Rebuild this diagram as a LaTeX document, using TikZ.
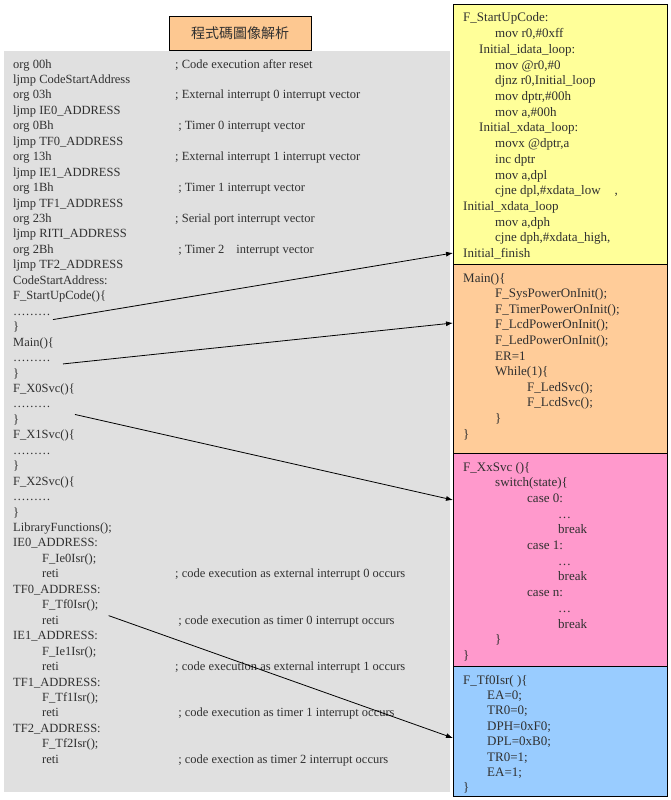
\documentclass[tikz,border=0pt]{standalone}
\usepackage{fontspec}
\setmainfont{Liberation Serif}
\newfontfamily\cjk{Noto Sans CJK SC}
\usetikzlibrary{arrows.meta}
\definecolor{panel}{HTML}{E0E0E0}
\definecolor{ttl}{HTML}{FDC891}
\definecolor{yel}{HTML}{FFFF99}
\definecolor{org}{HTML}{FFCC99}
\definecolor{pnk}{HTML}{FF99CC}
\definecolor{blu}{HTML}{99CCFF}
\definecolor{txt}{HTML}{303030}
\tikzset{ln/.style={anchor=base west,inner sep=0pt,font=\fontsize{12.5}{14}\selectfont,text=txt},
 rn/.style={anchor=base west,inner sep=0pt,font=\fontsize{13}{14}\selectfont,text=txt},
 box/.style={draw=black,line width=0.8pt},
 arr/.style={-{Latex[length=7pt,width=5pt]},line width=0.8pt}}
\begin{document}
\begin{tikzpicture}[x=1pt,y=-1pt]
\useasboundingbox (0,0) rectangle (671,800);
\fill[panel] (4,51) rectangle (450,792);
\node[box,fill=ttl,minimum width=142pt,minimum height=34pt,font=\cjk\fontsize{14}{16}\selectfont,text=txt] (title) at (240,33) {程式碼圖像解析};
\draw[box,fill=yel] (453,4) rectangle (667,264);
\draw[box,fill=org] (453,264) rectangle (667,453);
\draw[box,fill=pnk] (453,453) rectangle (667,666);
\draw[box,fill=blu] (453,666) rectangle (667,796);
\coordinate (yb) at (453,253);
\coordinate (ob) at (453,323);
\coordinate (pb) at (453,500);
\coordinate (bb) at (453,738);
% left column
\foreach \t [count=\i] in {{org 00h},{ljmp CodeStartAddress},{org 03h},{ljmp IE0\_ADDRESS},{org 0Bh},{ljmp TF0\_ADDRESS},{org 13h},{ljmp IE1\_ADDRESS},{org 1Bh},{ljmp TF1\_ADDRESS},{org 23h},{ljmp RITI\_ADDRESS},{org 2Bh},{ljmp TF2\_ADDRESS},{CodeStartAddress:},{F\_StartUpCode()\{},{\dots\dots\dots},{\}},{Main()\{},{\dots\dots\dots},{\}},{F\_X0Svc()\{},{\dots\dots\dots},{\}},{F\_X1Svc()\{},{\dots\dots\dots},{\}},{F\_X2Svc()\{},{\dots\dots\dots},{\}},{LibraryFunctions();},{IE0\_ADDRESS:},{\hspace{29pt}F\_Ie0Isr();},{\hspace{29pt}reti},{TF0\_ADDRESS:},{\hspace{29pt}F\_Tf0Isr();},{\hspace{29pt}reti},{IE1\_ADDRESS:},{\hspace{29pt}F\_Ie1Isr();},{\hspace{29pt}reti},{TF1\_ADDRESS:},{\hspace{29pt}F\_Tf1Isr();},{\hspace{29pt}reti},{TF2\_ADDRESS:},{\hspace{29pt}F\_Tf2Isr();},{\hspace{29pt}reti}}
  \node[ln] (l\i) at (13,{68+15.45*(\i-1)}) {\t};
\foreach \n/\t in {1/{; Code execution after reset},3/{; External interrupt 0 interrupt vector},5/{\ ; Timer 0 interrupt vector},7/{; External interrupt 1 interrupt vector},9/{\ ; Timer 1 interrupt vector},11/{; Serial port interrupt vector},13/{\ ; Timer 2\hspace{12pt}interrupt vector},34/{; code execution as external interrupt 0 occurs},37/{\ ; code execution as timer 0 interrupt occurs},40/{; code execution as external interrupt 1 occurs},43/{\ ; code execution as timer 1 interrupt occurs},46/{\ ; code exection as timer 2 interrupt occurs}}
  \node[ln] (c\n) at (175,{68+15.45*(\n-1)}) {\t};
% yellow
\foreach \x/\t [count=\i] in {463/{F\_StartUpCode:},495/{mov r0,\#0xff},479/{Initial\_idata\_loop:},495/{mov @r0,\#0},495/{djnz r0,Initial\_loop},495/{mov dptr,\#00h},495/{mov a,\#00h},479/{Initial\_xdata\_loop:},495/{movx @dptr,a},495/{inc dptr},495/{mov a,dpl},495/{cjne dpl,\#xdata\_low\hspace{14pt},},463/{Initial\_xdata\_loop},495/{mov a,dph},495/{cjne dph,\#xdata\_high,},463/{Initial\_finish}}
  \node[rn] (y\i) at (\x,{22+15.7*(\i-1)}) {\t};
% orange
\foreach \x/\t [count=\i] in {463/{Main()\{},495/{F\_SysPowerOnInit();},495/{F\_TimerPowerOnInit();},495/{F\_LcdPowerOnInit();},495/{F\_LedPowerOnInit();},495/{ER=1},495/{While(1)\{},527/{F\_LedSvc();},527/{F\_LcdSvc();},495/{\}},463/{\}}}
  \node[rn] (o\i) at (\x,{282+15.6*(\i-1)}) {\t};
% pink
\foreach \x/\t [count=\i] in {463/{F\_XxSvc ()\{},495/{switch(state)\{},527/{case 0:},558/{\dots},558/{break},527/{case 1:},558/{\dots},558/{break},527/{case n:},558/{\dots},558/{break},495/{\}},463/{\}}}
  \node[rn] (p\i) at (\x,{471+15.7*(\i-1)}) {\t};
% blue
\foreach \x/\t [count=\i] in {463/{F\_Tf0Isr( )\{},487/{EA=0;},487/{TR0=0;},487/{DPH=0xF0;},487/{DPL=0xB0;},487/{TR0=1;},487/{EA=1;},463/{\}}}
  \node[rn] (b\i) at (\x,{684+15.4*(\i-1)}) {\t};
% arrows
\draw[arr] ([xshift=40pt,yshift=-4pt]l17.south west) -- (yb);
\draw[arr] ([xshift=50pt,yshift=-2pt]l20.south west) -- (ob);
\draw[arr] ([xshift=62pt]l24.north west) -- (pb);
\draw[arr] ([xshift=10pt,yshift=-4pt]l36.south east) -- (bb);
\end{tikzpicture}
\end{document}
